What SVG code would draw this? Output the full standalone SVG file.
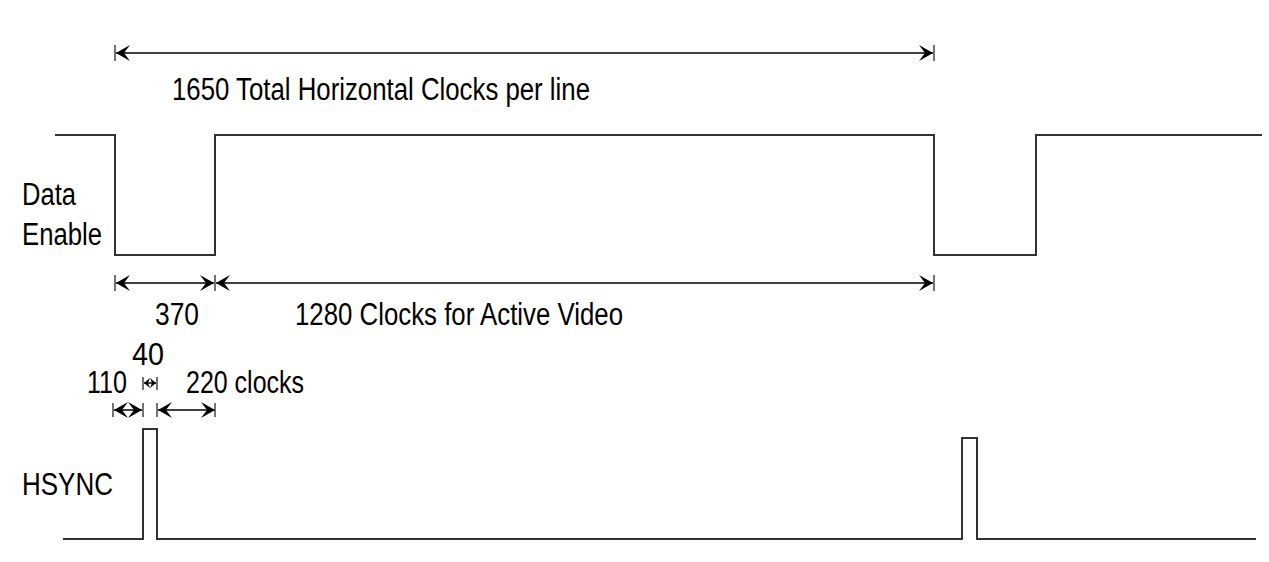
<svg xmlns="http://www.w3.org/2000/svg" width="1269" height="562" viewBox="0 0 1269 562">
<defs>
<style>
.wave{fill:none;stroke:#333;stroke-width:2}
.dim{fill:none;stroke:#000;stroke-width:1.5}
.tick{stroke:#444;stroke-width:1.5}
text{font-family:"Liberation Sans",Arial,sans-serif;font-size:31px;fill:#000}
</style>
<marker id="ah" markerUnits="userSpaceOnUse" viewBox="-16 -9 18 18" refX="0" refY="0" markerWidth="18" markerHeight="18" orient="auto-start-reverse">
<path d="M0,0 L-14,-8 L-8,0 L-14,8 Z" fill="#000"/>
</marker>
<marker id="ahs" markerUnits="userSpaceOnUse" viewBox="-8 -6 10 12" refX="0" refY="0" markerWidth="10" markerHeight="12" orient="auto-start-reverse">
<path d="M0,0 L-6,-5 L-4,0 L-6,5 Z" fill="#000"/>
</marker>
</defs>
<rect width="1269" height="562" fill="#fff"/>
<g id="data-enable">
<path class="wave" d="M55,135 H115 V255 H215 V135 H934 V255 H1036 V135 H1262"/>
<text x="22" y="205" textLength="54" lengthAdjust="spacingAndGlyphs">Data</text>
<text x="22" y="245" textLength="80" lengthAdjust="spacingAndGlyphs">Enable</text>
</g>
<g id="hsync">
<path class="wave" d="M63,539 H143 V429 H157 V539 H962 V438 H977 V539 H1256"/>
<text x="22" y="495" textLength="91" lengthAdjust="spacingAndGlyphs">HSYNC</text>
</g>
<g id="connectors">
<path class="dim" d="M116,53 H933" marker-start="url(#ah)" marker-end="url(#ah)"/>
<line class="tick" x1="115" y1="45" x2="115" y2="61"/>
<line class="tick" x1="934" y1="45" x2="934" y2="61"/>
<path class="dim" d="M116,283 H214" marker-start="url(#ah)" marker-end="url(#ah)"/>
<path class="dim" d="M216,283 H933" marker-start="url(#ah)" marker-end="url(#ah)"/>
<line class="tick" x1="115" y1="275" x2="115" y2="291"/>
<line class="tick" x1="215" y1="275" x2="215" y2="291"/>
<line class="tick" x1="934" y1="275" x2="934" y2="291"/>
<path class="dim" d="M114,410 H142" marker-start="url(#ah)" marker-end="url(#ah)"/>
<line class="tick" x1="113" y1="403" x2="113" y2="417"/>
<line class="tick" x1="143" y1="403" x2="143" y2="417"/>
<path class="dim" d="M158,410 H215" marker-start="url(#ah)" marker-end="url(#ah)"/>
<line class="tick" x1="157" y1="403" x2="157" y2="417"/>
<line class="tick" x1="215" y1="403" x2="215" y2="417"/>
<path class="dim" d="M144,383 H156" marker-start="url(#ahs)" marker-end="url(#ahs)"/>
<line class="tick" x1="143" y1="377" x2="143" y2="390"/>
<line class="tick" x1="157" y1="377" x2="157" y2="390"/>
</g>
<g id="labels">
<text x="172" y="100" textLength="418" lengthAdjust="spacingAndGlyphs">1650 Total Horizontal Clocks per line</text>
<text x="155" y="325" textLength="44" lengthAdjust="spacingAndGlyphs">370</text>
<text x="295" y="325" textLength="328" lengthAdjust="spacingAndGlyphs">1280 Clocks for Active Video</text>
<text x="132" y="365" textLength="32" lengthAdjust="spacingAndGlyphs">40</text>
<text x="87" y="393" textLength="40" lengthAdjust="spacingAndGlyphs">110</text>
<text x="186" y="393" textLength="118" lengthAdjust="spacingAndGlyphs">220 clocks</text>
</g>
</svg>
